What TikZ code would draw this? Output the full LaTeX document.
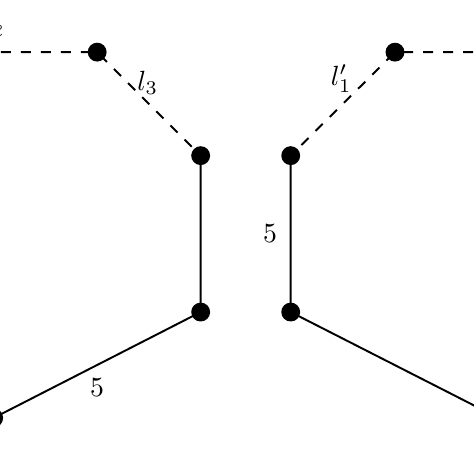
\documentclass[tikz,border=0pt]{standalone}
\begin{document}
\begin{tikzpicture}[line width=0.7pt]
\useasboundingbox (0,0) rectangle (6,-6);
\coordinate (L) at (-1,-0.66);
\coordinate (P0) at (1.23,-0.66);
\coordinate (P1) at (2.54,-1.97);
\coordinate (P2) at (2.54,-3.95);
\coordinate (P3) at (-0.08,-5.29);
\coordinate (Q0) at (5.00,-0.66);
\coordinate (Q1) at (3.68,-1.97);
\coordinate (Q2) at (3.68,-3.95);
\coordinate (Q3) at (6.31,-5.29);
\coordinate (R) at (7,-0.66);
\fill (P0) circle (3.4pt);
\fill (P1) circle (3.4pt);
\fill (P2) circle (3.4pt);
\fill (P3) circle (3.4pt);
\fill (Q0) circle (3.4pt);
\fill (Q1) circle (3.4pt);
\fill (Q2) circle (3.4pt);
\fill (Q3) circle (3.4pt);
\draw [dash pattern=on 3.6pt off 3.6pt] (L) -- (P0) -- (P1);
\draw [dash pattern=on 3.6pt off 3.6pt] (R) -- (Q0) -- (Q1);
\draw (P1) -- (P2) -- (P3);
\draw (Q1) -- (Q2) -- (Q3);
\node (e) at (-0.04,-0.40) {$e$};
\node (l3) at (1.87,-1.05) {$l_3$};
\node (l1) at (4.32,-0.99) {$l_1'$};
\node (w1) at (3.42,-2.96) {$5$};
\node (w2) at (1.23,-4.90) {$5$};
\end{tikzpicture}
\end{document}
